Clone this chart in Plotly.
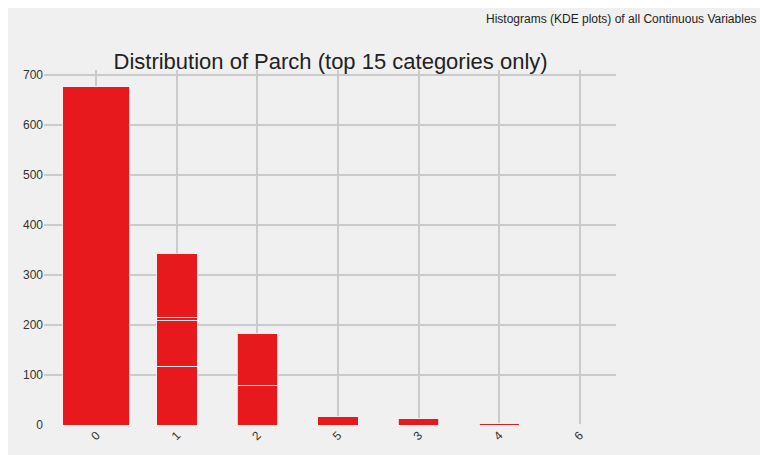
import plotly.graph_objects as go

categories = ["0", "1", "2", "5", "3", "4", "6"]
layer1 = [678, 118, 80, 17, 14, 4, 2]
layer2 = [0, 92, 104, 0, 0, 0, 0]
layer3 = [0, 6, 0, 0, 0, 0, 0]
layer4 = [0, 127, 0, 0, 0, 0, 0]
widths = [0.83, 0.5, 0.5, 0.5, 0.5, 0.5, 0.5]

xs = list(range(len(categories)))
fig = go.Figure()
for layer in [layer1, layer2, layer3, layer4]:
    fig.add_trace(go.Bar(x=xs, y=layer, width=widths, marker=dict(color="#e8191c", line=dict(color="#f0f0f0", width=0.8)), showlegend=False))

fig.update_layout(
    barmode="stack", width=768, height=455,
    paper_bgcolor="#f0f0f0", plot_bgcolor="#f0f0f0",
    margin=dict(l=36, r=160, t=62, b=38),
    font=dict(family="Liberation Sans, Arial", color="#333"),
    title=dict(text="Distribution of Parch (top 15 categories only)", x=0.42, xanchor="center", yref="container", y=0.9, font=dict(size=22, color="#222")),
    annotations=[dict(text="Histograms (KDE plots) of all Continuous Variables", xref="paper", yref="paper", x=1.25, y=1.17, xanchor="right", showarrow=False, font=dict(size=12, color="#222"))],
)
fig.update_xaxes(tickvals=xs, ticktext=categories, tickangle=-45, range=[-0.65, 6.45], showgrid=True, gridcolor="#cbcbcb", gridwidth=1.5, zeroline=False, tickfont=dict(size=12))
fig.update_yaxes(range=[0, 710], dtick=100, showgrid=True, gridcolor="#cbcbcb", gridwidth=1.5, zeroline=False, tickfont=dict(size=12))
fig.write_html("out.html")
